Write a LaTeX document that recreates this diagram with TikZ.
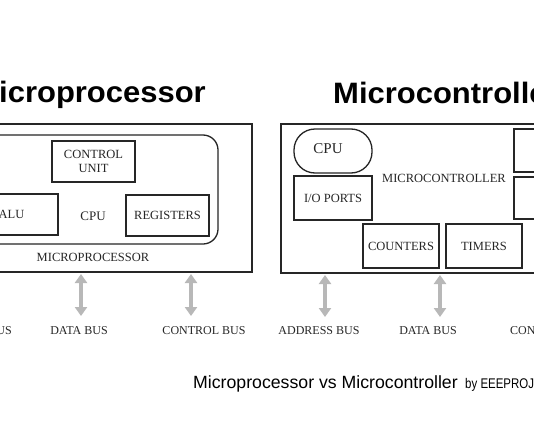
\documentclass[tikz,border=0pt]{standalone}
\usepackage{fontspec}
\setmainfont{Liberation Serif}
\newfontfamily\arialfont{Liberation Sans}
\newfontfamily\titlefont[FakeStretch=1.05]{Liberation Sans}
\newfontfamily\narrowfont[FakeStretch=0.82]{Liberation Sans}
\usetikzlibrary{arrows.meta}
\begin{document}
\begin{tikzpicture}[x=1pt,y=-1pt,
  blk/.style={draw=black!85, line width=1.3pt, inner sep=0pt, text=black!85,
    font=\fontsize{12.5}{13.5}\selectfont, align=center},
  outer/.style={draw=black!85, line width=1.5pt, inner sep=0pt},
  lbl/.style={text=black!85, font=\fontsize{12.5}{14}\selectfont, inner sep=0pt},
  buslbl/.style={text=black!85, font=\fontsize{12}{14}\selectfont, inner sep=0pt, anchor=base},
  bus/.style={draw=black!28, line width=4pt,
    {Triangle[width=12pt,length=9pt]}-{Triangle[width=12pt,length=9pt]}},
  title/.style={inner sep=0pt, font=\titlefont\bfseries\fontsize{29.5}{32}\selectfont}
]
\useasboundingbox (0,0) rectangle (534,436);
\fill[white] (0,0) rectangle (534,436);

% titles
\node[title, anchor=base east] (t1) at (206,102) {Microprocessor};
\node[title, anchor=base west] (t2) at (333,103) {Microcontroller};

% ---------- Microprocessor ----------
\node[outer, minimum width=322pt, minimum height=148pt] (outerL) at (91,198) {};
\node[blk, rounded corners=15pt, minimum width=254pt, minimum height=109pt] (cpuL) at (91,189.5) {};
\node[blk, minimum width=83pt, minimum height=41pt] (ctrl) at (93.5,161.5) {CONTROL\\UNIT};
\node[blk, minimum width=93pt, minimum height=41pt] (alu) at (11.5,214.5) {ALU};
\node[blk, minimum width=83pt, minimum height=41pt] (reg) at (167.5,215.5) {REGISTERS};
\node[lbl, font=\fontsize{13}{14}\selectfont] (cputxt) at (93,216) {CPU};
\node[lbl] (mptxt) at (93,257) {MICROPROCESSOR};

% ---------- Microcontroller ----------
\node[outer, minimum width=320pt, minimum height=149pt] (outerR) at (441,198.5) {};
\node[blk, rounded corners=21pt, minimum width=78pt, minimum height=44pt] (cpuR) at (333,151) {};
\node[lbl, font=\fontsize{15}{16}\selectfont] (cpuRtxt) at (328,149) {CPU};
\node[blk, minimum width=78pt, minimum height=44pt] (io) at (333,198) {I/O PORTS};
\node[blk, minimum width=76pt, minimum height=44pt] (cnt) at (401,246) {COUNTERS};
\node[blk, minimum width=76pt, minimum height=44pt] (tim) at (484,246) {TIMERS};
\node[blk, minimum width=83pt, minimum height=43pt] (box1) at (555.5,150.5) {};
\node[blk, minimum width=83pt, minimum height=42pt] (box2) at (555.5,198) {};
\node[lbl] (mctxt) at (444,178) {MICROCONTROLLER};

% ---------- buses ----------
\coordinate (a1) at (81,274);  \coordinate (b1) at (81,316);
\coordinate (a2) at (191,274); \coordinate (b2) at (191,316);
\coordinate (a3) at (325,275); \coordinate (b3) at (325,317);
\coordinate (a4) at (440,275); \coordinate (b4) at (440,317);
\draw[bus] (a1) -- (b1);
\draw[bus] (a2) -- (b2);
\draw[bus] (a3) -- (b3);
\draw[bus] (a4) -- (b4);

\node[buslbl, anchor=base east] (l0) at (12,334) {ADDRESS BUS};
\node[buslbl] (l1) at (79,334) {DATA BUS};
\node[buslbl] (l2) at (204,334) {CONTROL BUS};
\node[buslbl] (l3) at (319,334) {ADDRESS BUS};
\node[buslbl] (l4) at (428,334) {DATA BUS};
\node[buslbl, anchor=base west] (l5) at (510,334) {CONTROL BUS};

% caption
\node[inner sep=0pt, anchor=base west, font=\arialfont\fontsize{17.7}{20}\selectfont] (cap) at (193,388) {Microprocessor vs Microcontroller};
\node[inner sep=0pt, anchor=base west, font=\narrowfont\fontsize{14}{16}\selectfont] (by) at (465,388) {by EEEPROJECT};
\end{tikzpicture}
\end{document}
